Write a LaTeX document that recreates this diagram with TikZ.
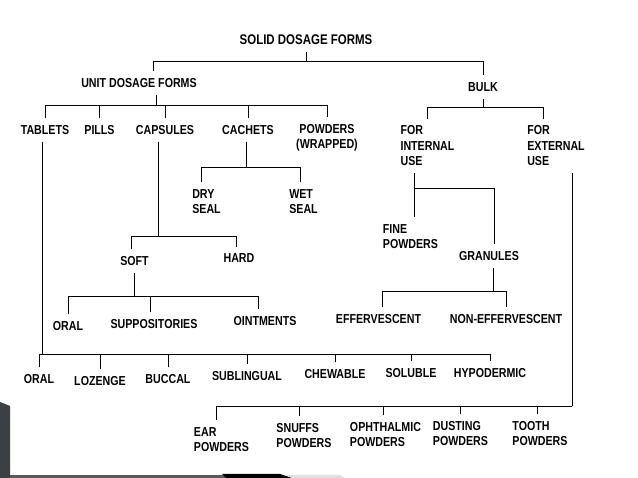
\documentclass[tikz,border=0pt]{standalone}
\usepackage{fontspec}
\setmainfont{Liberation Sans}[FakeStretch=0.82]
\definecolor{slate}{HTML}{3C3F43}

\begin{document}
\begin{tikzpicture}[x=1pt,y=-1pt]

\tikzset{lbl/.style = {font=\bfseries\fontsize{13}{15.5}\selectfont, align=left, inner xsep=2pt, inner ysep=6.5pt}}
\tikzset{every path/.append style = {line width=1pt}}

\useasboundingbox (0,0) rectangle (638,478);

% slide decoration
\fill[slate] (0,402) -- (10,406) -- (10,478) -- (0,478) -- cycle;
\fill[black!65] (10,475) rectangle (226,478);
\fill[black] (222,474) -- (280,474) -- (292,478) -- (226,478) -- cycle;
\fill[black!12] (286,475) -- (340,475) -- (345,478) -- (292,478) -- cycle;

% top levels
\node[lbl, font=\bfseries\fontsize{14}{16}\selectfont] (solid) at (306,40) {SOLID DOSAGE FORMS};
\node[lbl] (unit) at (139,83) {UNIT DOSAGE FORMS};
\node[lbl] (bulk) at (483,87) {BULK};

\node[lbl] (tab)  at (45,130)  {TABLETS};
\node[lbl] (pill) at (99.5,130) {PILLS};
\node[lbl] (caps) at (165,130) {CAPSULES};
\node[lbl] (cach) at (248,130) {CACHETS};
\node[lbl, align=center] (powd) at (327,138) {POWDERS\\(WRAPPED)};
\node[lbl] (int)  at (427.5,146) {FOR\\INTERNAL\\USE};
\node[lbl] (ext)  at (556,146) {FOR\\EXTERNAL\\USE};

% second levels
\node[lbl] (dry)  at (206.5,201.5) {DRY\\SEAL};
\node[lbl] (wet)  at (303.5,201.5) {WET\\SEAL};
\node[lbl] (fine) at (410.5,236.5) {FINE\\POWDERS};
\node[lbl] (gran) at (489,256) {GRANULES};
\node[lbl] (soft) at (134.5,261) {SOFT};
\node[lbl] (hard) at (239,258) {HARD};

\node[lbl] (oral) at (68,326)  {ORAL};
\node[lbl] (supp) at (154,324) {SUPPOSITORIES};
\node[lbl] (oint) at (265,321) {OINTMENTS};
\node[lbl] (eff)  at (378.5,319) {EFFERVESCENT};
\node[lbl] (neff) at (506,319) {NON-EFFERVESCENT};

% tablets
\node[lbl] (toral) at (39,379) {ORAL};
\node[lbl] (loz)   at (100,381) {LOZENGE};
\node[lbl] (bucc)  at (168,379) {BUCCAL};
\node[lbl] (subl)  at (247,376) {SUBLINGUAL};
\node[lbl] (chew)  at (335,374) {CHEWABLE};
\node[lbl] (solu)  at (411,373) {SOLUBLE};
\node[lbl] (hypo)  at (490,373) {HYPODERMIC};

% external use
\node[lbl] (ear)   at (221.5,439.5) {EAR\\POWDERS};
\node[lbl] (snuf)  at (304,435.5) {SNUFFS\\POWDERS};
\node[lbl] (opht)  at (385.5,434.5) {OPHTHALMIC\\POWDERS};
\node[lbl] (dust)  at (460.5,433.5) {DUSTING\\POWDERS};
\node[lbl] (tooth) at (540,433.5) {TOOTH\\POWDERS};

% connectors
\draw (solid.south) -- ++(0,10) coordinate (b0);
\draw ([xshift=14pt]unit.north) |- (b0) -| (bulk.north);

\draw ([xshift=17pt]unit.south) -- ++(0,11) coordinate (b1);
\draw (tab.north) |- (b1) -| (powd.north);
\foreach \n in {pill,caps,cach}
  \draw (\n.north) -- (\n.north |- b1);

\draw (bulk.south) -- ++(0,9) coordinate (b2);
\draw (int.north) |- (b2) -| ([xshift=-13pt]ext.north);

\draw ([xshift=-2pt]cach.south) -- ++(0,26) coordinate (b3);
\draw ([xshift=-5pt]dry.north) |- (b3) -| ([xshift=-3pt]wet.north);

\draw ([xshift=-7pt]caps.south) -- ++(0,95) coordinate (b4);
\draw ([xshift=-3pt]soft.north) |- (b4) -| ([xshift=-3pt]hard.north);

\draw ([xshift=-13pt]int.south) -- ([xshift=-13pt]int.south |- fine.north);
\draw ([xshift=-13pt]int.south) ++(0,15) -| ([xshift=5pt]gran.north);

\draw ([xshift=4pt]gran.south) -- ++(0,24) coordinate (b5);
\draw ([xshift=4pt]eff.north) |- (b5) -| (neff.north);

\draw (soft.south) -- ++(0,24) coordinate (b6);
\draw (oral.north) |- (b6) -| ([xshift=-7pt]oint.north);
\draw ([xshift=-4pt]supp.north) -- ([xshift=-4pt]supp.north |- b6);

\draw ([xshift=-3pt]tab.south) -- ++(0,213) coordinate (b7);
\draw (toral.north) |- (b7) -| (hypo.north);
\foreach \n in {loz,bucc,subl,chew,solu}
  \draw (\n.north) -- (\n.north |- b7);

\draw ([xshift=16pt]ext.south) -- ++(0,233) coordinate (b8);
\draw ([xshift=-5pt]ear.north) |- (b8);
\draw ([xshift=-5pt]snuf.north) -- ([xshift=-5pt]snuf.north |- b8);
\draw ([xshift=-2pt]opht.north) -- ([xshift=-2pt]opht.north |- b8);
\draw (dust.north) -- (dust.north |- b8);
\draw ([xshift=-3pt]tooth.north) -- ([xshift=-3pt]tooth.north |- b8);

\end{tikzpicture}
\end{document}
